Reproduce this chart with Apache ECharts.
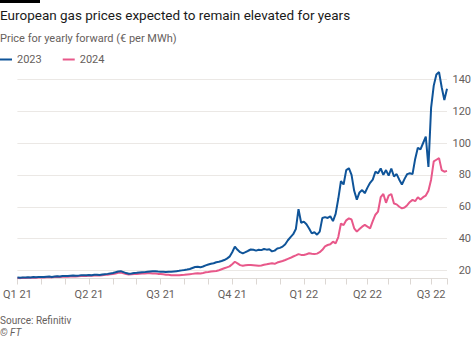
<!DOCTYPE html>
<html>
<head>
<meta charset="utf-8">
<script src="https://cdn.jsdelivr.net/npm/echarts@6/dist/echarts.min.js"></script>
<style>
html,body{margin:0;padding:0;background:#fff;}
#chart{width:474px;height:338px;}
</style>
</head>
<body>
<div id="chart"></div>
<script>
// Month keys (each month is a run of points on the category axis)
const months = ['Jan 21','Feb 21','Mar 21','Apr 21','May 21','Jun 21','Jul 21','Aug 21','Sep 21','Oct 21','Nov 21','Dec 21',
                'Jan 22','Feb 22','Mar 22','Apr 22','May 22','Jun 22','Jul 22'];
const quarterLabels = {'Jan 21':'Q1 21','Apr 21':'Q2 21','Jul 21':'Q3 21','Oct 21':'Q4 21','Jan 22':'Q1 22','Apr 22':'Q2 22','Jul 22':'Q3 22'};

// Price for 2023 yearly forward (€ per MWh), by month
const price2023 = [
  [15.6,15.5,15.7,15.6,15.8,15.7,15.9,15.8,15.9],
  [16.0,15.9,16.1,16.2,16.0,16.3,16.4,16.2,16.5],
  [16.6,16.5,16.7,16.9,16.7,16.8,17.0,17.1,17.0],
  [17.2,17.1,17.3,17.4,17.2,17.5,17.7,17.9,18.2],
  [18.5,18.9,19.4,19.6,19.0,18.4,18.0,18.2,18.5],
  [18.6,18.8,18.9,19.0,19.2,19.4,19.5,19.6,19.4],
  [19.3,19.2,19.1,19.3,19.2,19.4,19.6,19.8,20.1],
  [20.3,20.6,21.0,21.6,22.2,22.4,22.0,22.5,23.2],
  [23.8,24.3,24.6,25.2,25.5,26.0,26.6,27.5,28.7],
  [31.5,35.0,33.0,31.5,30.8,31.5,32.4,33.2,33.0],
  [32.5,33.0,32.8,33.5,33.1,33.3,32.0,32.5,33.8],
  [34.2,35.0,36.5,39.0,41.0,42.8,46.0,58.5,50.0],
  [50.7,49.0,46.4,43.3,44.0,42.5,44.4,53.0],
  [53.5,53.0,54.0,51.0,55.5,65.0,76.0,74.0],
  [83.0,84.2,80.0,70.0,64.5,69.0,70.5,68.5],
  [72.0,75.0,77.0,82.0,81.0,84.0,80.0,83.0],
  [79.5,84.0,79.0,80.5,77.0,74.0,77.5,80.5],
  [81.0,80.5,90.0,97.0,96.0,100.0,104.0,85.0],
  [122.0,136.0,143.0,144.5,135.0,127.0,134.0]
];

// Price for 2024 yearly forward (€ per MWh), by month
const price2024 = [
  [15.3,15.2,15.4,15.3,15.5,15.4,15.6,15.5,15.6],
  [15.7,15.6,15.8,15.9,15.7,16.0,16.1,15.9,16.1],
  [16.2,16.1,16.3,16.4,16.3,16.4,16.6,16.7,16.6],
  [16.8,16.7,16.9,17.0,16.9,17.1,17.3,17.4,17.6],
  [17.8,18.1,18.6,18.8,18.3,17.8,17.5,17.6,17.8],
  [17.9,18.0,18.1,18.2,18.3,18.3,18.2,18.1,17.9],
  [17.8,17.6,17.4,17.3,17.1,17.0,17.1,17.0,17.2],
  [17.3,17.5,17.7,17.9,18.1,18.3,18.2,18.5,18.9],
  [19.1,19.4,19.6,19.7,20.2,20.8,21.4,22.0,22.6],
  [24.0,25.5,24.5,23.4,23.0,23.3,23.5,23.4,23.3],
  [23.2,23.0,23.2,23.6,23.9,24.3,24.5,24.2,25.0],
  [25.5,26.0,26.6,27.3,28.0,28.8,29.5,30.3,29.8],
  [29.7,30.2,30.8,30.5,30.3,30.6,31.5,33.0],
  [35.2,36.0,36.5,38.1,37.0,41.0,49.5,48.5],
  [51.5,52.7,52.0,46.5,44.4,46.0,47.5,48.6],
  [47.5,46.5,51.0,55.0,57.0,66.0,68.0,62.5],
  [67.0,68.0,62.0,61.5,60.0,59.0,59.5,61.0],
  [63.0,64.3,63.5,66.0,64.5,66.0,67.0,70.0],
  [77.0,88.5,89.5,90.5,83.0,82.0,82.5]
];

const yTicks = [20,40,60,80,100,120,140];

// Build category axis: one category per point, named after its month
const categories = [];
const monthStart = {};
const quarterStart = {};
months.forEach((m, mi) => {
  price2023[mi].forEach((v, k) => {
    const idx = categories.length;
    if (k === 0) { monthStart[idx] = true; if (quarterLabels[m]) quarterStart[idx] = quarterLabels[m]; }
    categories.push(m + ' #' + (k + 1));
  });
});
const lastIdx = categories.length - 1;
const data2023 = [].concat(...price2023);
const data2024 = [].concat(...price2024);

const chart = echarts.init(document.getElementById('chart'), null, {renderer: 'svg'});
const textGrey = '#66605c';
const font = 'Roboto';

chart.setOption({
  animation: false,
  backgroundColor: '#ffffff',
  textStyle: {fontFamily: font},
  graphic: [
    {type: 'rect', left: 0, top: 0, shape: {width: 40, height: 3}, style: {fill: '#000'}},
    {type: 'text', left: 0, top: 8, style: {text: 'European gas prices expected to remain elevated for years', fill: '#1a1a1a', font: '13.5px ' + font}},
    {type: 'text', left: 0, top: 33, style: {text: 'Price for yearly forward (€ per MWh)', fill: textGrey, font: '11px ' + font}},
    {type: 'text', left: 0, top: 315, style: {text: 'Source: Refinitiv', fill: textGrey, font: '10px ' + font}},
    {type: 'text', left: 0, top: 327, style: {text: '© FT', fill: textGrey, font: 'italic 10px ' + font}}
  ],
  legend: {
    left: 0, top: 54,
    data: ['2023', '2024'],
    icon: 'rect',
    itemWidth: 12, itemHeight: 2,
    itemGap: 21,
    textStyle: {color: textGrey, fontSize: 11, fontFamily: font, padding: [0, 0, 0, 0]},
    padding: 0
  },
  grid: {left: 13.3, right: 26.7, top: 63.3, bottom: 59.5, containLabel: false},
  xAxis: {
    type: 'category',
    data: categories,
    boundaryGap: false,
    axisLine: {show: true, lineStyle: {color: '#e0dcd8', width: 1}},
    axisTick: {show: true, length: 6, lineStyle: {color: '#dcd7d3'},
      interval: (i) => !!monthStart[i] || i === lastIdx},
    axisLabel: {
      interval: (i) => !!quarterStart[i],
      formatter: (v, i) => quarterStart[i] || '',
      color: textGrey, fontSize: 11, fontFamily: font, margin: 10
    },
    splitLine: {show: false}
  },
  yAxis: {
    type: 'value',
    position: 'right',
    min: 15, max: 150,
    axisLine: {show: false},
    axisTick: {show: false, customValues: yTicks},
    axisLabel: {customValues: yTicks, color: textGrey, fontSize: 11, fontFamily: font, align: 'right', margin: 24},
    splitLine: {show: true, lineStyle: {color: '#ebe8e5', width: 1}}
  },
  series: [
    {name: '2023', type: 'line', data: data2023, showSymbol: false, symbol: 'none', z: 3,
     lineStyle: {color: '#0f5499', width: 2}, itemStyle: {color: '#0f5499'}},
    {name: '2024', type: 'line', data: data2024, showSymbol: false, symbol: 'none', z: 2,
     lineStyle: {color: '#e8588a', width: 2}, itemStyle: {color: '#e8588a'}}
  ]
});
</script>
</body>
</html>
